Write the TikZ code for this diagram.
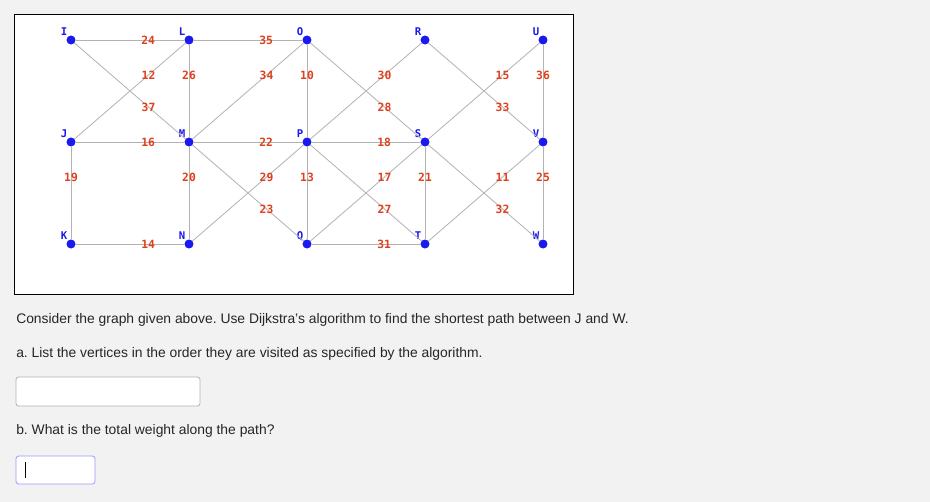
\documentclass[tikz,border=0pt]{standalone}
\usepackage{fontspec}
\setmainfont{Liberation Sans}
\newfontfamily\monof{DejaVu Sans Mono}
\definecolor{wred}{HTML}{E0401C}
\definecolor{vblue}{HTML}{1A1AEE}
\begin{document}
\frenchspacing
\begin{tikzpicture}[x={(0.75pt,0)},y={(0,-0.75pt)},
  vtx/.style={circle,fill=vblue,inner sep=0pt,minimum size=6.5pt},
  vlab/.style={text=vblue,font=\monof\bfseries\fontsize{8}{9}\selectfont,inner sep=0pt},
  edge/.style={draw=black!30,line width=0.6pt},
  wl/.style={text=wred,font=\monof\bfseries\fontsize{8.5}{9}\selectfont,inner sep=0pt},
  qtext/.style={anchor=west,font=\fontsize{10.4}{12}\selectfont,text=black!85,inner sep=0pt},
  inbox/.style={draw=black!30,fill=white,rounded corners=2pt,line width=0.6pt}]
\fill[black!5] (0,0) rectangle (930,502);
\useasboundingbox (0,0) rectangle (930,502);
\draw[fill=white,line width=0.6pt] (14,14) rectangle (573,294);
\foreach \n/\x/\y in {I/71/40,L/189/40,O/307/40,R/425/40,U/543/40,J/71/142,M/189/142,P/307/142,S/425/142,V/543/142,K/71/244,N/189/244,Q/307/244,T/425/244,W/543/244}{
  \node[vtx] (\n) at (\x,\y) {};
  \node[vlab] at (\x-7,\y-8) {\n};
}
\foreach \a/\b/\w/\p in {I/L/24/0.667,L/O/35/0.667,I/M/37/0.667,J/L/12/0.667,L/M/26/0.333,M/O/34/0.667,O/P/10/0.333,J/M/16/0.667,M/P/22/0.667,J/K/19/0.333,M/N/20/0.333,N/P/29/0.667,M/Q/23/0.667,P/Q/13/0.333,K/N/14/0.667,O/S/28/0.667,P/R/30/0.667,P/S/18/0.667,P/T/27/0.667,Q/S/17/0.667,S/T/21/0.333,Q/T/31/0.667,R/V/33/0.667,S/U/15/0.667,U/V/36/0.333,S/W/32/0.667,T/V/11/0.667,V/W/25/0.333}{
  \path[edge] (\a) -- (\b);
}
\foreach \a/\b/\w/\p in {I/L/24/0.667,L/O/35/0.667,I/M/37/0.667,J/L/12/0.667,L/M/26/0.333,M/O/34/0.667,O/P/10/0.333,J/M/16/0.667,M/P/22/0.667,J/K/19/0.333,M/N/20/0.333,N/P/29/0.667,M/Q/23/0.667,P/Q/13/0.333,K/N/14/0.667,O/S/28/0.667,P/R/30/0.667,P/S/18/0.667,P/T/27/0.667,Q/S/17/0.667,S/T/21/0.333,Q/T/31/0.667,R/V/33/0.667,S/U/15/0.667,U/V/36/0.333,S/W/32/0.667,T/V/11/0.667,V/W/25/0.333}{
  \path (\a) -- (\b) node[wl,pos=\p] {\w};
}
\foreach \n/\x/\y in {I/71/40,L/189/40,O/307/40,R/425/40,U/543/40,J/71/142,M/189/142,P/307/142,S/425/142,V/543/142,K/71/244,N/189/244,Q/307/244,T/425/244,W/543/244}{
  \node[vtx] at (\x,\y) {};
}
\node[qtext] (q1) at (16,320) {Consider the graph given above. Use Dijkstra's algorithm to find the shortest path between J and W.};
\node[qtext] (q2) at (16,354) {a. List the vertices in the order they are visited as specified by the algorithm.};
\draw[inbox] (16,377) rectangle (200,406);
\node[qtext] (q3) at (16,431) {b. What is the total weight along the path?};
\draw[inbox,draw=blue!40] (16,456) rectangle (95,484);
\draw[black,line width=0.6pt] (25,462) -- (25,478);
\end{tikzpicture}
\end{document}
